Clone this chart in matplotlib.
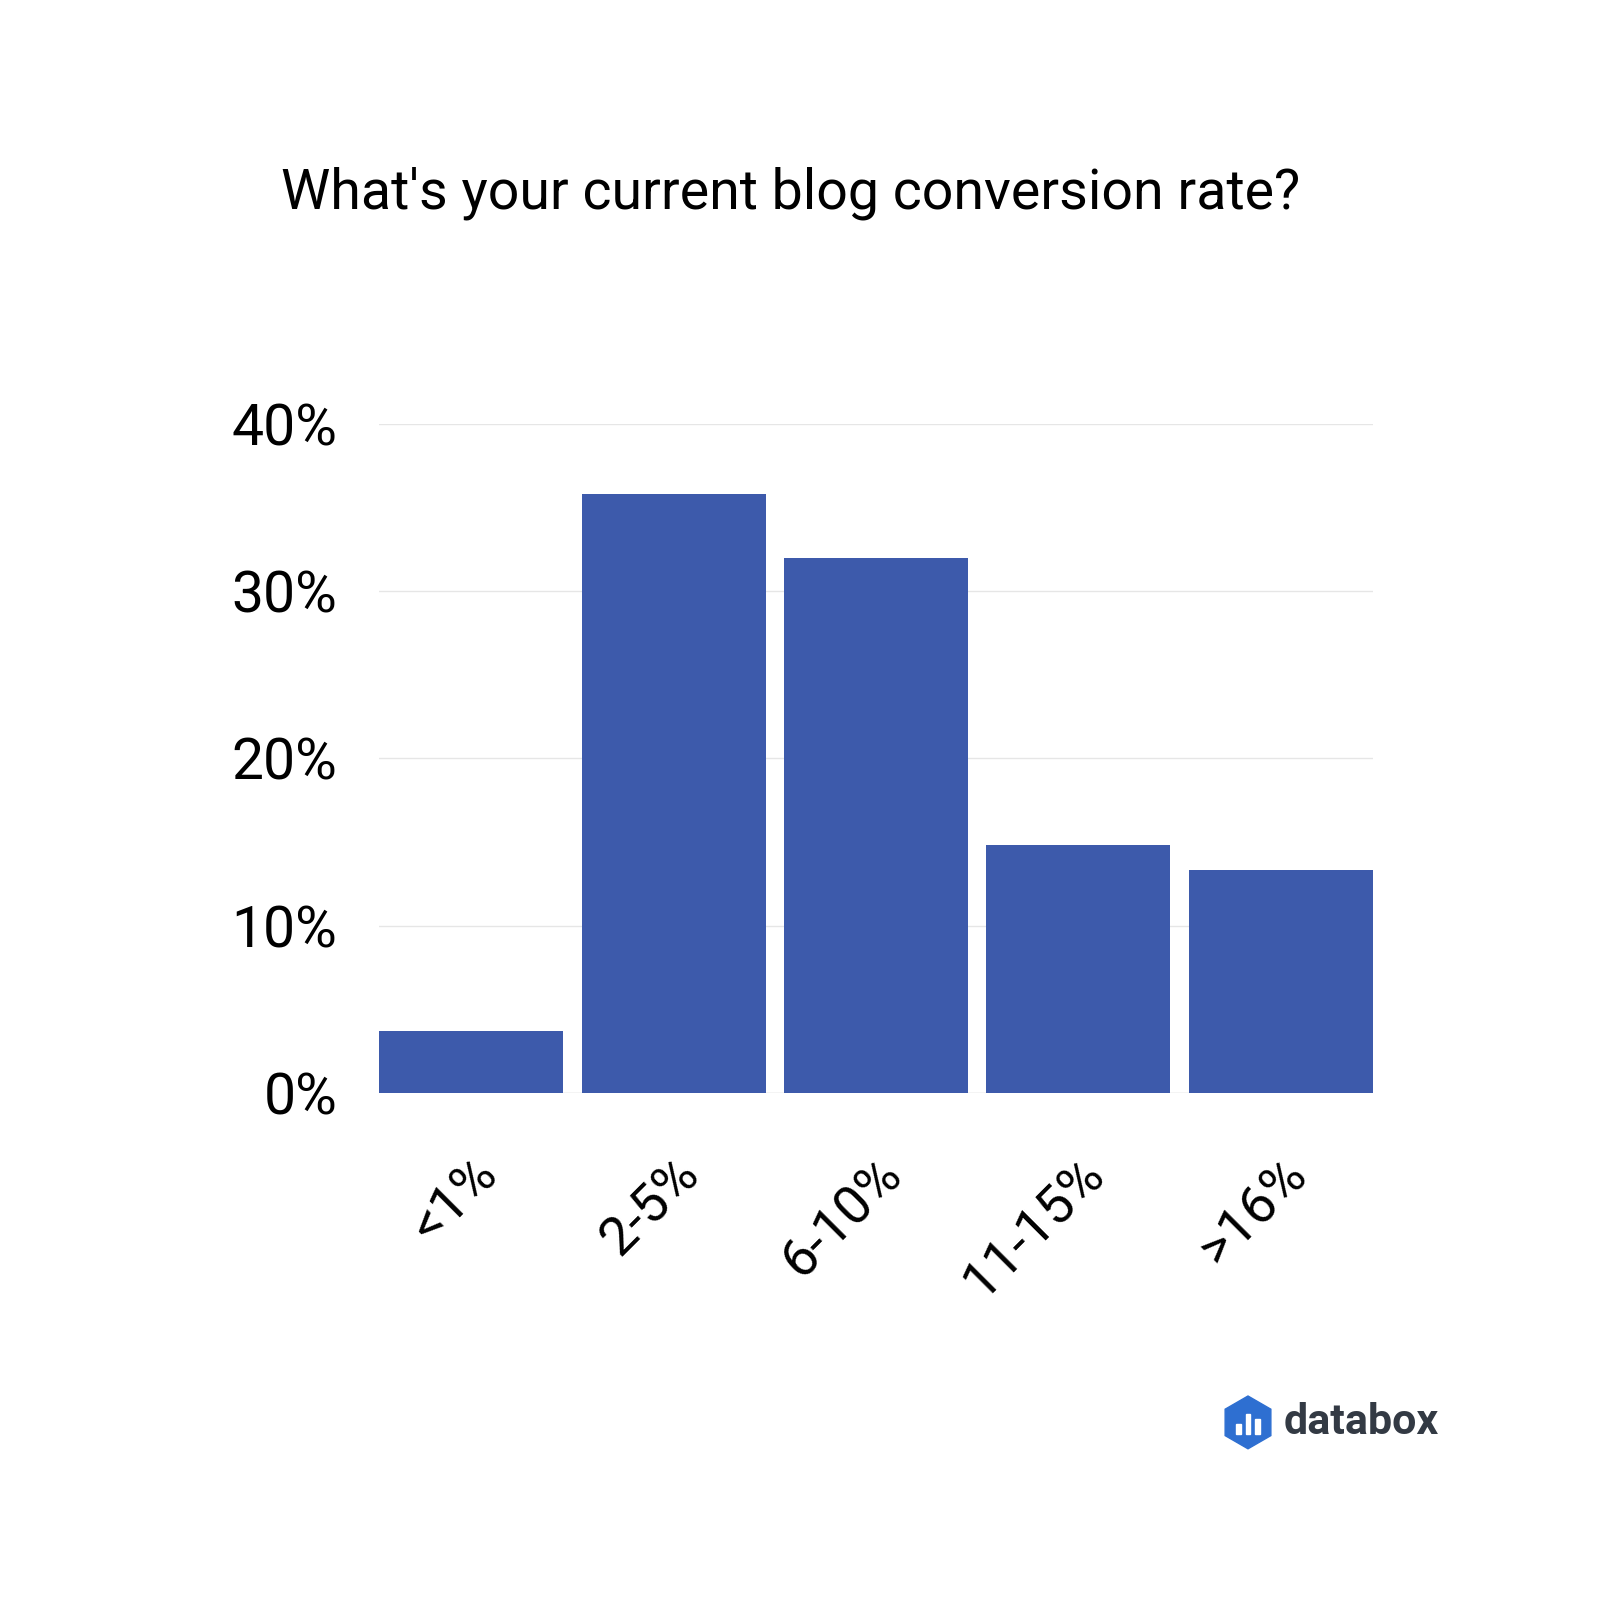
import matplotlib.pyplot as plt
from matplotlib.patches import RegularPolygon, Rectangle

plt.rcParams['font.family'] = ['Roboto', 'DejaVu Sans']

categories = ["<1%", "2-5%", "6-10%", "11-15%", ">16%"]
values = [3.7, 35.8, 32.0, 14.8, 13.3]
yticks = [0, 10, 20, 30, 40]

fig = plt.figure(figsize=(16, 16), dpi=100)
ax = fig.add_axes([0.237, 0.317, 0.621, 0.418])

ax.bar(range(len(categories)), values, width=0.91, color="#3d5aab", zorder=3)
ax.set_xlim(-0.455, len(categories) - 0.545)
ax.set_ylim(0, 40)
ax.set_yticks(yticks)
ax.set_yticklabels([f"{t}%" for t in yticks], fontsize=41)
ax.set_xticks(range(len(categories)))
ax.set_xticklabels(categories, fontsize=39, rotation=45, ha="right",
                   rotation_mode="anchor")
ax.tick_params(length=0, pad=30, axis="y")
ax.tick_params(length=0, pad=40, axis="x")
ax.grid(axis="y", color="#e6e6e6", lw=1, zorder=0)
for s in ax.spines.values():
    s.set_visible(False)
ax.axhline(0, color="#dddddd", lw=1, zorder=2)

fig.text(0.494, 0.879, "What's your current blog conversion rate?",
         ha="center", va="center", fontsize=40)

# databox logo
hx, hy = 0.780, 0.111
fig.patches.append(RegularPolygon((hx, hy), 6, radius=0.0165, orientation=0,
                                  color="#2e6fd1", transform=fig.transFigure))
for dx, h in [(-0.006, 0.006), (0.0, 0.012), (0.006, 0.009)]:
    fig.patches.append(Rectangle((hx + dx - 0.0015, hy - 0.007), 0.003, h,
                                 color="white", transform=fig.transFigure))
fig.text(0.802, 0.111, "databox", ha="left", va="center", fontsize=31,
         fontweight="bold", color="#333a44")

fig.savefig("out.png", dpi=100, facecolor="white")
